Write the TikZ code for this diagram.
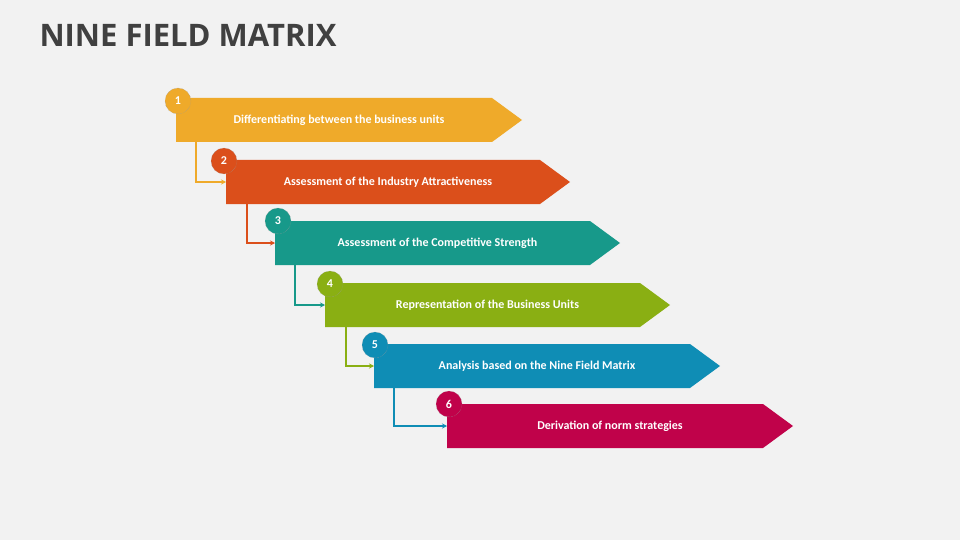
\documentclass[tikz,border=0pt]{standalone}
\usepackage{fontspec}
\usetikzlibrary{arrows.meta}
\setmainfont{Carlito}
\newfontfamily\titlefont{Open Sans}
\definecolor{bg}{HTML}{F2F2F2}
\definecolor{cA}{HTML}{EFAA2A}
\definecolor{cB}{HTML}{DB4F1B}
\definecolor{cC}{HTML}{17998A}
\definecolor{cD}{HTML}{8AAF13}
\definecolor{cE}{HTML}{0F8DB5}
\definecolor{cF}{HTML}{C0024A}
\begin{document}
\begin{tikzpicture}[x=1pt,y=-1pt,
  lbl/.style={text=white,font=\bfseries\fontsize{12}{14}\selectfont},
  badge/.style={circle,minimum size=26pt,inner sep=0pt,text=white,font=\bfseries\fontsize{12}{14}\selectfont,draw=white!60!black,densely dotted,line width=0.4pt},
  conn/.style={line width=1.2pt,-{Stealth[length=5pt,width=5pt]}}]
\fill[bg] (0,0) rectangle (960,540);
\useasboundingbox (0,0) rectangle (960,540);
\node[anchor=west,text=black!75,font=\titlefont\bfseries\fontsize{31}{34}\selectfont] (title) at (36,35) {NINE FIELD MATRIX};
\foreach \i/\l/\t/\e/\c/\bx/\by/\txt in {
 1/176/98/492/cA/178/101/{Differentiating between the business units},
 2/226/160/540/cB/224/161/{Assessment of the Industry Attractiveness},
 3/275/221/590/cC/278/221/{Assessment of the Competitive Strength},
 4/325/283/640/cD/330/284/{Representation of the Business Units},
 5/374/344/690/cE/375/345/{Analysis based on the Nine Field Matrix},
 6/447/404/763/cF/449/404/{Derivation of norm strategies}}{
  \fill[\c] (\l,\t) -- (\e,\t) -- (\e+30,\t+22) -- (\e,\t+44) -- (\l,\t+44) -- cycle;
  \coordinate (a\i) at (\l,\t+22);
  \coordinate (bot\i) at (\l,\t+44);
  \node[lbl] (t\i) at ({(\l+\e)/2+5},\t+22) {\txt};
  \node[badge,fill=\c] (b\i) at (\bx,\by) {\i};
}
\foreach \i/\j/\x/\c in {1/2/196/cA,2/3/247/cB,3/4/295/cC,4/5/346/cD,5/6/394/cE}{
  \coordinate (p\i) at (\x,0);
  \draw[conn,\c] (p\i |- bot\i) -- (p\i |- a\j) -- (a\j);
}
\end{tikzpicture}
\end{document}
